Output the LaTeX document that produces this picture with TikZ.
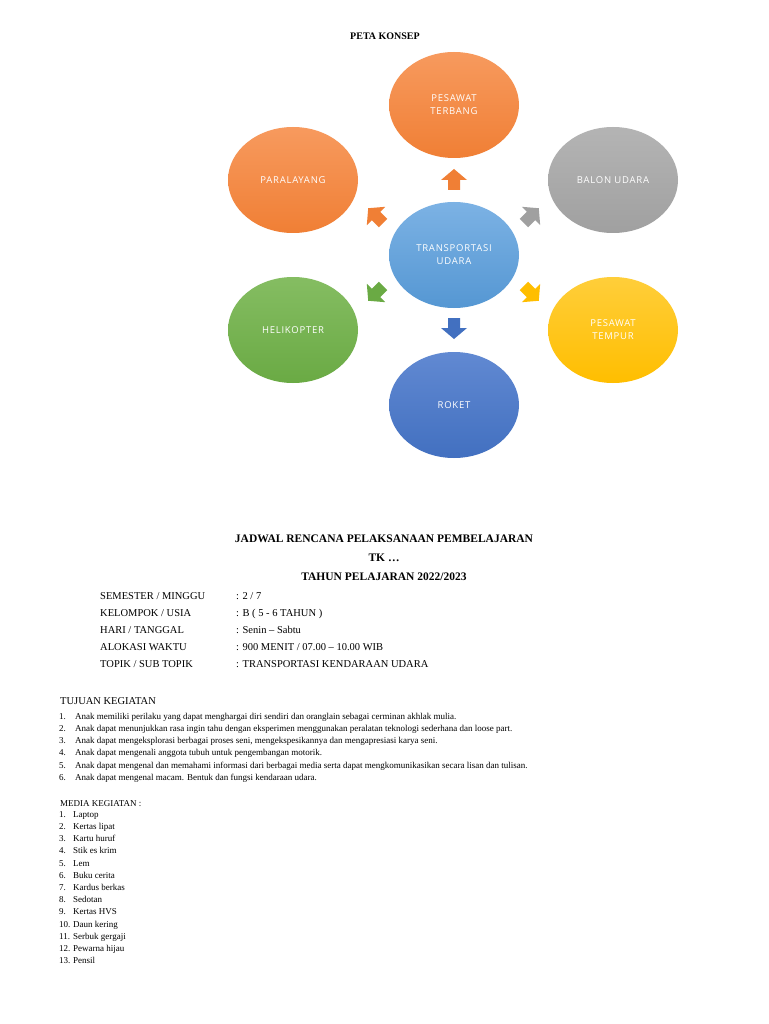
\documentclass[tikz,border=0pt]{standalone}
\usepackage{fontspec}
\setmainfont{Liberation Serif}
\newfontfamily\lblfont[LetterSpace=8]{Open Sans}
\usetikzlibrary{shapes.geometric}
\definecolor{org}{HTML}{F07F35}\definecolor{orgl}{HTML}{F79A5E}
\definecolor{gry}{HTML}{A0A0A0}\definecolor{gryl}{HTML}{B4B4B4}
\definecolor{blu}{HTML}{5597D3}\definecolor{blul}{HTML}{7CB2E4}
\definecolor{grn}{HTML}{6AAA44}\definecolor{grnl}{HTML}{85BD62}
\definecolor{ylw}{HTML}{FFBE00}\definecolor{ylwl}{HTML}{FFCE3A}
\definecolor{rbl}{HTML}{4270C0}\definecolor{rbll}{HTML}{6189D2}
\begin{document}
\begin{tikzpicture}[x=1pt,y=-1pt,
  ell/.style={ellipse,minimum width=130pt,minimum height=106pt,text=white,align=center,font=\lblfont\fontsize{9.5}{13}\selectfont},
  fatarrow/.pic={\fill[pic actions] (-10,-6) -- (0,-6) -- (0,-13) -- (11,0) -- (0,13) -- (0,6) -- (-10,6) -- cycle;},
  body/.style={anchor=base west,font=\fontsize{10.5}{12}\selectfont,inner sep=0pt},
  small/.style={anchor=base west,font=\fontsize{9}{11}\selectfont,inner sep=0pt},
  head/.style={font=\bfseries\fontsize{11.5}{13}\selectfont,inner sep=0pt}]
\useasboundingbox (0,0) rectangle (768,1024);
\fill[white] (0,0) rectangle (768,1024);
\node[head,font=\bfseries\fontsize{10}{12}\selectfont] (t) at (385,36) {PETA KONSEP};
\node[ell,top color=orgl,bottom color=org] (ps) at (454,105) {PESAWAT\\TERBANG};
\node[ell,top color=orgl,bottom color=org] (pa) at (293,180) {PARALAYANG};
\node[ell,top color=gryl,bottom color=gry] (bu) at (613,180) {BALON UDARA};
\node[ell,top color=blul,bottom color=blu] (tu) at (454,255) {TRANSPORTASI\\UDARA};
\node[ell,top color=grnl,bottom color=grn] (he) at (293,330) {HELIKOPTER};
\node[ell,top color=ylwl,bottom color=ylw] (pt) at (613,330) {PESAWAT\\TEMPUR};
\node[ell,top color=rbll,bottom color=rbl] (ro) at (454,405) {ROKET};
\pic[fill=org,rotate=90] at (454,180) {fatarrow};
\pic[fill=org,rotate=135] at (376,216) {fatarrow};
\pic[fill=gry,rotate=45] at (531,216) {fatarrow};
\pic[fill=grn,rotate=-135] at (376,293) {fatarrow};
\pic[fill=ylw,rotate=-45] at (531,293) {fatarrow};
\pic[fill=rbl,rotate=-90] at (454,328) {fatarrow};
\node[head] (h1) at (384,539) {JADWAL RENCANA PELAKSANAAN PEMBELAJARAN};
\node[head] (h2) at (384,558) {TK \dots};
\node[head] (h3) at (384,577) {TAHUN PELAJARAN 2022/2023};
\foreach \y/\a/\b [count=\i] in {599/{SEMESTER / MINGGU}/{: 2 / 7}, 616/{KELOMPOK / USIA}/{: B ( 5 - 6 TAHUN )}, 633/{HARI / TANGGAL}/{: Senin -- Sabtu}, 650/{ALOKASI WAKTU}/{: 900 MENIT / 07.00 -- 10.00 WIB}, 667/{TOPIK / SUB TOPIK}/{: TRANSPORTASI KENDARAAN UDARA}}{
  \node[body] (l\i) at (100,\y) {\a};
  \node[body] (v\i) at (236,\y) {\b};}
\node[body] (tk) at (60,704) {TUJUAN KEGIATAN};
\foreach \t [count=\i] in {Anak memiliki perilaku yang dapat menghargai diri sendiri dan oranglain sebagai cerminan akhlak mulia.,
 Anak dapat menunjukkan rasa ingin tahu dengan eksperimen menggunakan peralatan teknologi sederhana dan loose part.,
 {Anak dapat mengeksplorasi berbagai proses seni, mengekspesikannya dan mengapresiasi karya seni.},
 Anak dapat mengenali anggota tubuh untuk pengembangan motorik.,
 Anak dapat mengenal dan memahami informasi dari berbagai media serta dapat mengkomunikasikan secara lisan dan tulisan.,
 Anak dapat mengenal macam. Bentuk dan fungsi kendaraan udara.}{
  \node[small] (n\i) at (59,{707+\i*12.2}) {\i.};
  \node[small] (k\i) at (75,{707+\i*12.2}) {\t};}
\node[small] (mk) at (60,806) {MEDIA KEGIATAN :};
\foreach \t [count=\i] in {Laptop,Kertas lipat,Kartu huruf,Stik es krim,Lem,Buku cerita,Kardus berkas,Sedotan,Kertas HVS,Daun kering,Serbuk gergaji,Pewarna hijau,Pensil}{
  \node[small] (m\i) at (59,{805+\i*12.2}) {\i.};
  \node[small] (mt\i) at (73,{805+\i*12.2}) {\t};}
\end{tikzpicture}
\end{document}
